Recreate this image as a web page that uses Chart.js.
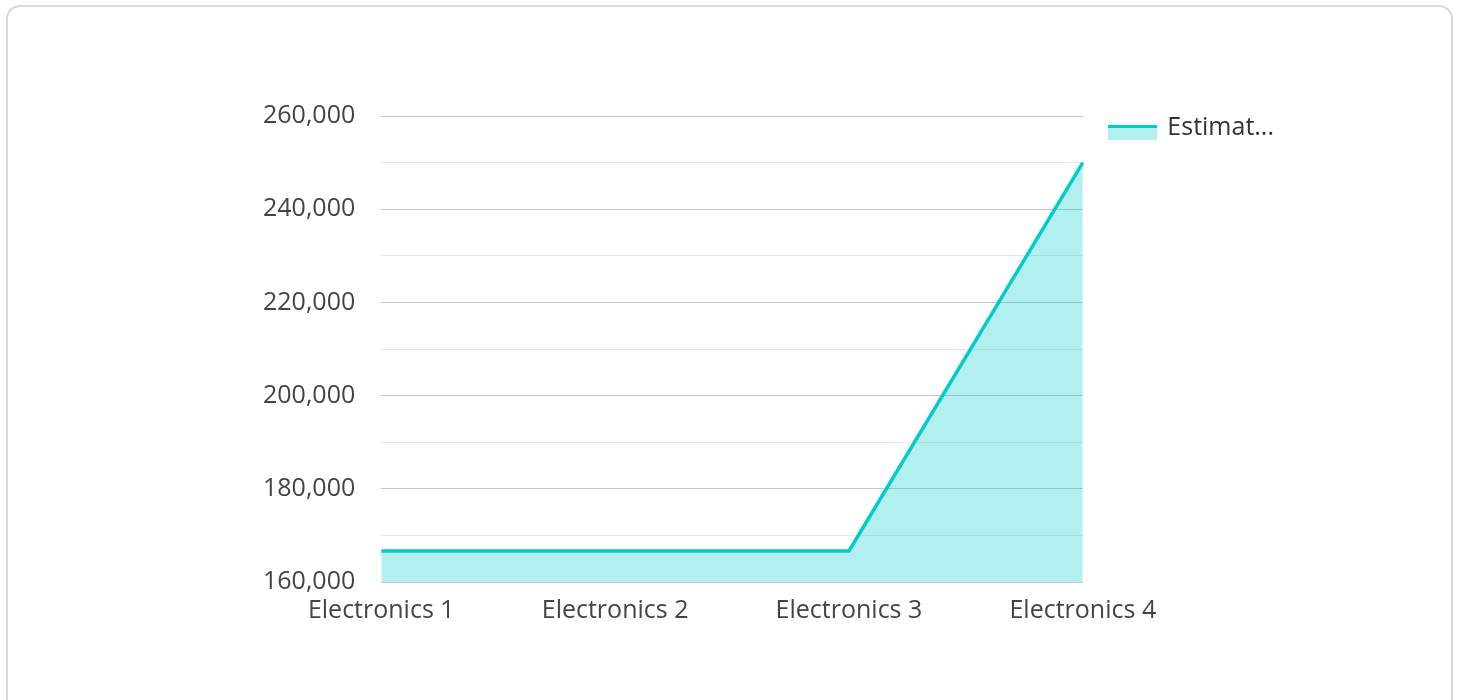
<!DOCTYPE html>
<html>
<head>
<meta charset="utf-8">
<script src="https://cdn.jsdelivr.net/npm/chart.js@4"></script>
<style>
  html, body { margin: 0; padding: 0; background: #fff; }
  body { width: 1458px; height: 700px; position: relative; overflow: hidden; }
  .card { position: absolute; left: 6px; top: 5px; width: 1447px; height: 730px;
          border: 2px solid #d9d9d9; border-radius: 14px; box-sizing: border-box; }
  #wrap { position: absolute; left: 0; top: 0; width: 1458px; height: 700px; }
</style>
</head>
<body>
<div class="card"></div>
<div id="wrap"><canvas id="estimateChart"></canvas></div>
<script>
const categories = ['Electronics 1', 'Electronics 2', 'Electronics 3', 'Electronics 4'];
const estimateValues = [166667, 166667, 166667, 250000];
const seriesName = 'Estimat...';
const yMin = 160000;
const yMax = 260000;

const lineColor = '#00cccc';
const fillColor = 'rgba(0, 204, 204, 0.3)';
const fontFamily = "'Open Sans', 'Noto Sans', sans-serif";

// legend swatch: thin line on top of the fill colour, sitting a bit low
const legendIcon = document.createElement('canvas');
legendIcon.width = 49;
legendIcon.height = 25;
const ictx = legendIcon.getContext('2d');
ictx.fillStyle = fillColor;
ictx.fillRect(0, 10, 49, 15);
ictx.fillStyle = lineColor;
ictx.fillRect(0, 10, 49, 3);

new Chart(document.getElementById('estimateChart'), {
  type: 'line',
  data: {
    labels: categories,
    datasets: [{
      label: seriesName,
      data: estimateValues,
      borderColor: lineColor,
      backgroundColor: fillColor,
      borderWidth: 3.5,
      fill: 'start',
      tension: 0,
      pointRadius: 0,
      pointHoverRadius: 0
    }]
  },
  options: {
    responsive: true,
    maintainAspectRatio: false,
    animation: false,
    layout: { padding: { left: 237, right: 174, top: 105, bottom: 60 } },
    plugins: {
      tooltip: { enabled: false },
      legend: {
        position: 'right',
        align: 'start',
        maxWidth: 320,
        labels: {
          usePointStyle: true,
          pointStyleWidth: 44,
          boxHeight: 15,
          padding: 10,
          color: '#333',
          font: { family: fontFamily, size: 25 },
          generateLabels: chart => [{
            text: seriesName,
            pointStyle: legendIcon,
            fontColor: '#333',
            datasetIndex: 0,
            lineWidth: 0
          }]
        }
      }
    },
    scales: {
      x: {
        offset: false,
        grid: { display: false, drawTicks: false },
        border: { display: false },
        ticks: {
          color: '#444',
          padding: 14,
          maxRotation: 0,
          autoSkip: false,
          font: { family: fontFamily, size: 25 }
        }
      },
      topGap: {
        type: 'category',
        position: 'top',
        display: true,
        grid: { display: false, drawTicks: false },
        border: { display: false },
        ticks: { display: false },
        afterFit: scale => { scale.height = 11; }
      },
      y: {
        min: yMin,
        max: yMax,
        grid: {
          drawTicks: false,
          color: ctx => (ctx.tick && ctx.tick.value % 20000 === 0) ? '#c6c6c6' : '#e9e9e9'
        },
        border: { display: false },
        ticks: {
          stepSize: 10000,
          padding: 26,
          color: '#444',
          font: { family: fontFamily, size: 25 },
          callback: v => v % 20000 === 0 ? v.toLocaleString('en-US') : ''
        }
      },
      gap: {
        position: 'right',
        display: true,
        grid: { display: false, drawTicks: false },
        border: { display: false },
        ticks: { display: false },
        afterFit: scale => { scale.width = 18; }
      }
    }
  }
});
</script>
</body>
</html>
